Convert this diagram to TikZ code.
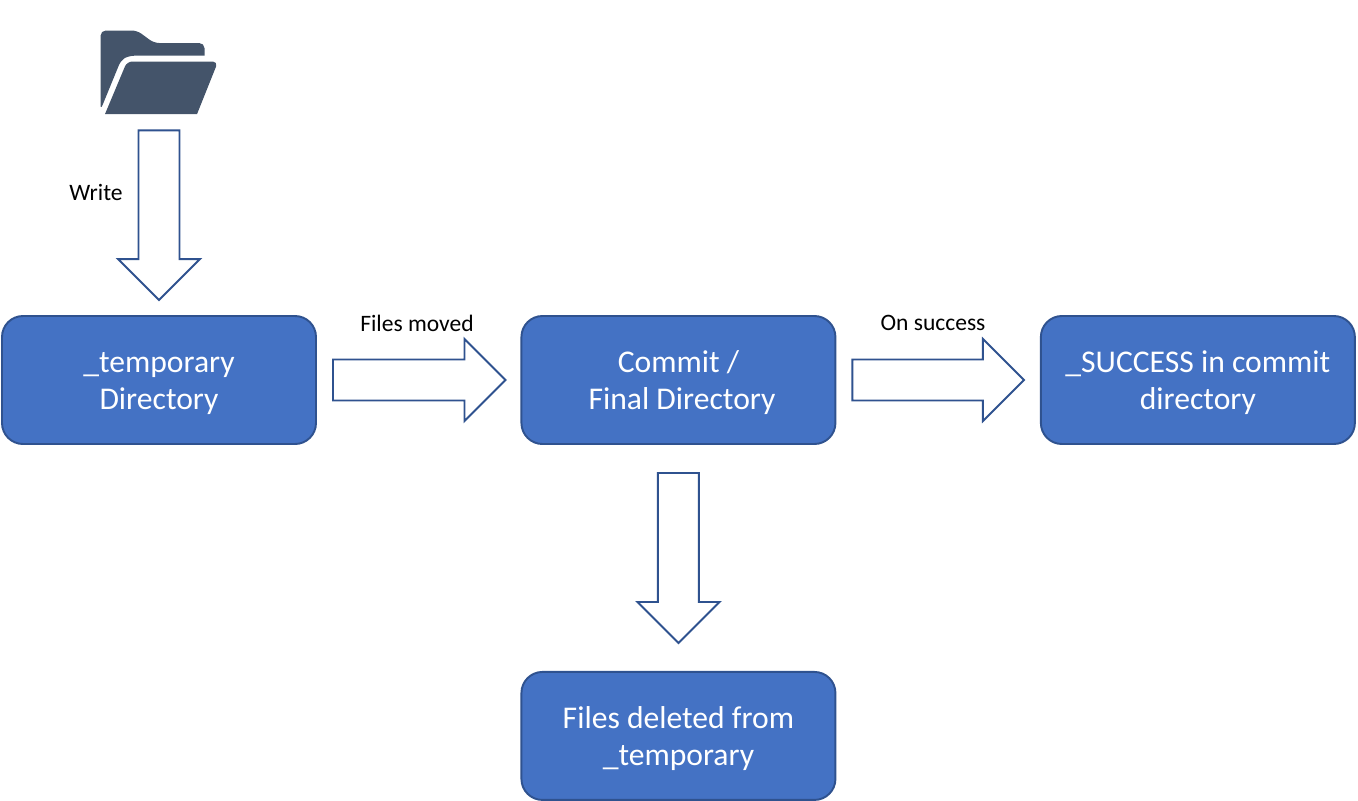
\documentclass[tikz,border=0pt]{standalone}
\usepackage{fontspec}
\setmainfont{Carlito}
\usetikzlibrary{positioning, calc}

\newcommand{\firstline}{\rule{0pt}{15.4pt}}

\begin{document}
\begin{tikzpicture}[
    node distance=4.07cm,
    stagebox/.style={rectangle, rounded corners=0.42cm, draw=stageborder, fill=stagefill,
        minimum width=6.28cm, minimum height=2.56cm, line width=1.1pt, text=white,
        align=center, font=\fontsize{18}{21}\selectfont},
    steplabel/.style={font=\fontsize{13.4}{15}\selectfont, text=black},
    blockarrow/.style={draw=stageborder, fill=white, line width=1.1pt, to path={
        ($(\tikztotarget)!0.82cm!(\tikztostart)$) coordinate (hb)
        ($(\tikztostart)!0.41cm!90:(hb)$) --
        ($(hb)!0.41cm!-90:(\tikztostart)$) --
        ($(hb)!0.82cm!-90:(\tikztostart)$) --
        (\tikztotarget) --
        ($(hb)!0.82cm!90:(\tikztostart)$) --
        ($(hb)!0.41cm!90:(\tikztostart)$) --
        ($(\tikztostart)!0.41cm!-90:(hb)$) -- cycle}},
]

% ── Colors ──
\definecolor{stageborder}{HTML}{2F528F}
\definecolor{stagefill}{HTML}{4472C4}
\definecolor{foldercol}{HTML}{44546A}

\useasboundingbox (0,0) rectangle (27.16,-16.02);

% ══════════════════════════════════════════════
% Boxes
% ══════════════════════════════════════════════
\node[stagebox] at (3.18,-7.6) (tempdir) {\firstline\_temporary\\Directory};
\node[stagebox, right=of tempdir] (commitdir) {\firstline Commit /\\~Final Directory};
\node[stagebox, right=of commitdir] (success) {\firstline\_SUCCESS in commit\\directory};
\node[stagebox, below=4.52cm of commitdir] (deleted) {\firstline Files deleted from\\\_temporary};

% ══════════════════════════════════════════════
% Folder icon
% ══════════════════════════════════════════════
\node[minimum width=2.34cm, minimum height=1.68cm, inner sep=0pt] at (3.18,-1.44) (folder) {};
\begin{scope}[x=0.02cm, y=-0.02cm]
\fill[foldercol, rounded corners=3pt] (100.5,110) -- (100.5,30.5) -- (137,30.5) -- (154,43) -- (204.5,43) [sharp corners] -- (204.5,55.7) [rounded corners=3pt] -- (129,55.7) -- (121,60) -- cycle;
\fill[foldercol] (105,114) [rounded corners=3pt] -- (127,61.5) -- (218,61.5) [sharp corners] -- (197,114) -- cycle;
\end{scope}

% ══════════════════════════════════════════════
% Block arrows
% ══════════════════════════════════════════════
\draw[blockarrow] ([yshift=-0.32cm]folder.south) to ([yshift=0.3cm]tempdir.north);
\draw[blockarrow] ([xshift=0.32cm]tempdir.east) to ([xshift=-0.3cm]commitdir.west);
\draw[blockarrow] ([xshift=0.32cm]commitdir.east) to ([xshift=-0.32cm]success.west);
\draw[blockarrow] ([yshift=-0.56cm]commitdir.south) to ([yshift=0.56cm]deleted.north);

% Arrow labels
\node[steplabel] at (1.92,-3.84) (writelbl) {Write};
\node[steplabel] at (8.34,-6.46) (movedlbl) {Files moved};
\node[steplabel] at (18.66,-6.46) (successlbl) {On success};

\end{tikzpicture}
\end{document}
